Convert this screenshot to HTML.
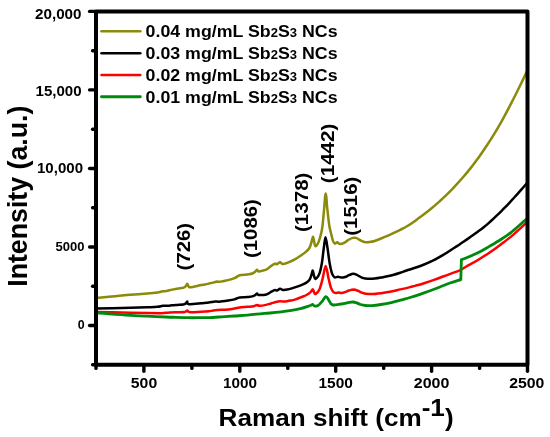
<!DOCTYPE html>
<html><head><meta charset="utf-8"><title>Raman spectra</title>
<style>html,body{margin:0;padding:0;background:#fff}svg{display:block}text{font-family:"Liberation Sans",Arial,sans-serif;font-weight:bold;fill:#000}</style></head><body>
<svg width="550" height="437" viewBox="0 0 550 437">
<rect width="550" height="437" fill="#fff"/>
<filter id="b" x="0" y="0" width="550" height="437" filterUnits="userSpaceOnUse"><feGaussianBlur stdDeviation="0.45"/></filter>
<g filter="url(#b)">
<clipPath id="c"><rect x="96" y="11.4" width="431.5" height="353.40000000000003"/></clipPath>
<g clip-path="url(#c)" fill="none" stroke-width="2.5" stroke-linejoin="round" stroke-linecap="round">
<path stroke="#8a8a08" d="M96.0,298.1C98.1,297.9 104.5,297.2 108.8,296.8C113.1,296.4 117.3,295.9 121.6,295.5C125.9,295.1 130.2,294.8 134.5,294.5C138.8,294.2 143.5,293.9 147.3,293.6C151.1,293.3 154.9,292.9 157.5,292.5C160.1,292.1 161.3,291.5 162.7,291.3C164.1,291.1 164.9,291.3 166.0,291.1C167.1,290.9 167.6,290.7 169.2,290.3C170.8,289.9 173.2,289.4 175.6,289.0C177.9,288.6 181.6,288.1 183.3,287.7C185.0,287.2 185.0,286.9 185.7,286.3C186.3,285.7 186.7,283.8 187.2,283.8C187.7,283.8 188.1,285.8 188.6,286.4C189.1,287.0 188.3,287.5 190.4,287.3C192.5,287.1 198.2,285.7 201.3,285.1C204.4,284.5 206.7,284.1 208.8,283.6C210.9,283.2 212.8,282.8 214.1,282.4C215.4,282.0 215.9,281.5 216.7,281.4C217.5,281.3 217.2,282.0 219.1,281.8C221.0,281.6 225.4,280.7 228.0,280.1C230.6,279.5 232.6,279.0 234.5,278.2C236.4,277.4 237.5,275.9 239.6,275.3C241.7,274.7 245.2,274.7 247.3,274.4C249.4,274.1 251.1,274.0 252.4,273.5C253.8,273.0 254.6,272.1 255.4,271.5C256.2,270.9 256.5,269.7 257.0,269.7C257.5,269.7 257.6,271.4 258.6,271.5C259.6,271.6 261.5,271.0 262.8,270.6C264.1,270.2 265.2,270.2 266.7,269.4C268.2,268.5 270.4,266.5 271.8,265.5C273.2,264.5 274.1,263.8 275.0,263.6C275.9,263.4 276.0,264.4 276.9,264.2C277.8,264.0 279.1,262.3 280.1,262.3C281.1,262.3 281.5,263.9 282.7,264.0C283.9,264.1 285.2,263.7 287.2,262.9C289.2,262.1 292.5,260.7 294.9,259.4C297.2,258.1 299.4,256.6 301.3,255.3C303.2,254.0 305.0,252.7 306.4,251.4C307.8,250.1 308.8,249.2 309.6,247.6C310.5,246.0 310.9,243.8 311.5,242.0C312.1,240.2 312.6,236.9 313.0,236.8C313.4,236.8 313.8,240.1 314.2,241.7C314.6,243.3 314.8,246.2 315.5,246.2C316.2,246.2 317.7,243.9 318.7,241.7C319.7,239.4 320.6,235.5 321.3,232.7C322.0,229.9 322.1,229.1 322.6,225.0C323.1,220.9 323.8,212.6 324.2,208.0C324.6,203.4 324.8,199.9 325.0,197.5C325.2,195.1 325.5,193.4 325.7,193.4C325.9,193.4 326.1,195.1 326.4,197.5C326.6,199.9 326.7,203.4 327.2,208.0C327.7,212.6 328.6,220.9 329.2,225.0C329.8,229.1 330.3,230.1 330.9,232.7C331.5,235.3 332.2,238.6 332.8,240.4C333.4,242.2 333.9,243.3 334.7,243.6C335.4,243.9 336.4,242.2 337.3,242.3C338.2,242.4 338.7,244.1 340.0,244.1C341.3,244.1 343.6,243.1 345.1,242.3C346.6,241.5 347.7,240.2 349.0,239.5C350.3,238.8 351.6,238.2 352.8,237.9C354.0,237.6 354.9,237.6 356.0,237.9C357.1,238.2 358.1,239.0 359.2,239.6C360.3,240.2 361.3,240.9 362.4,241.3C363.5,241.7 364.4,242.1 365.6,242.2C366.8,242.3 368.0,242.3 369.5,242.1C371.0,241.9 372.7,241.6 374.6,241.0C376.5,240.4 378.9,239.4 381.0,238.5C383.1,237.6 385.3,236.7 387.4,235.8C389.5,234.9 391.6,233.9 393.8,232.9C396.0,231.9 398.1,230.9 400.3,229.8C402.5,228.7 404.6,227.8 407.0,226.3C409.4,224.8 412.3,222.8 415.0,220.9C417.7,219.0 420.3,217.1 423.0,215.1C425.7,213.1 428.3,211.0 431.0,208.8C433.7,206.6 436.3,204.3 439.0,201.9C441.7,199.5 444.3,197.0 447.0,194.4C449.7,191.8 452.3,189.0 455.0,186.2C457.7,183.3 460.3,180.4 463.0,177.3C465.7,174.2 468.3,171.0 471.0,167.6C473.7,164.2 476.3,160.6 479.0,156.9C481.7,153.2 484.3,149.4 487.0,145.3C489.7,141.2 492.3,137.0 495.0,132.6C497.7,128.2 500.3,123.6 503.0,118.8C505.7,114.0 508.3,108.9 511.0,103.7C513.7,98.5 516.2,93.4 519.0,87.8C521.8,82.2 526.1,73.0 527.5,70.0"/>
<path stroke="#000" d="M96.0,308.5C100.3,308.4 113.0,308.3 121.6,308.1C130.2,307.9 141.3,307.5 147.3,307.3C153.3,307.1 154.9,307.1 157.5,306.8C160.1,306.6 160.9,306.0 162.8,305.8C164.8,305.6 167.1,305.9 169.2,305.7C171.3,305.5 173.2,305.1 175.6,304.9C177.9,304.7 181.6,304.6 183.3,304.4C185.0,304.2 185.2,304.0 185.8,303.5C186.5,303.0 186.7,301.3 187.2,301.4C187.7,301.5 186.5,303.9 188.8,304.2C191.2,304.5 198.0,303.6 201.3,303.3C204.6,303.0 206.5,302.9 208.8,302.6C211.1,302.3 213.5,301.6 215.2,301.5C216.9,301.4 217.0,301.8 219.1,301.7C221.2,301.6 225.4,301.0 228.0,300.6C230.6,300.2 232.6,299.9 234.5,299.4C236.4,298.9 237.5,297.8 239.6,297.4C241.7,297.0 245.2,297.3 247.3,297.1C249.4,296.9 251.1,296.8 252.4,296.4C253.8,296.0 254.6,295.5 255.4,295.0C256.2,294.5 256.5,293.5 257.0,293.5C257.5,293.5 257.6,294.8 258.6,295.0C259.6,295.2 261.5,295.1 262.8,295.0C264.1,294.9 265.2,295.0 266.7,294.4C268.2,293.8 270.4,292.1 271.8,291.4C273.2,290.6 274.1,290.0 275.0,289.9C275.9,289.8 276.0,290.7 276.9,290.5C277.8,290.3 279.1,288.9 280.1,288.8C281.1,288.7 281.5,289.8 282.7,289.9C283.9,290.0 285.2,290.0 287.2,289.6C289.2,289.2 292.5,288.1 294.9,287.4C297.2,286.7 299.4,286.0 301.3,285.2C303.2,284.4 305.0,283.5 306.4,282.6C307.8,281.7 308.8,280.9 309.6,279.6C310.4,278.3 310.9,276.5 311.4,275.0C311.9,273.5 312.4,270.4 312.8,270.6C313.2,270.8 313.6,274.6 314.1,276.0C314.6,277.4 314.8,279.2 315.7,278.8C316.6,278.4 318.4,276.2 319.4,273.6C320.4,271.0 321.2,267.3 321.9,263.0C322.6,258.7 323.2,252.3 323.8,248.0C324.4,243.7 324.9,237.2 325.5,237.2C326.1,237.2 326.8,243.7 327.5,248.0C328.2,252.3 328.9,258.9 329.6,263.0C330.3,267.1 331.0,270.4 331.8,272.8C332.6,275.2 333.4,276.5 334.4,277.2C335.4,277.9 336.9,276.7 338.0,276.8C339.1,276.9 340.0,277.6 341.2,277.6C342.4,277.6 343.8,277.4 345.1,277.0C346.4,276.6 347.7,275.7 349.0,275.2C350.3,274.7 351.8,273.9 353.0,273.8C354.2,273.7 355.5,274.2 356.5,274.6C357.5,275.0 358.2,275.7 359.2,276.2C360.2,276.7 361.3,277.4 362.4,277.8C363.5,278.2 364.4,278.3 365.6,278.5C366.8,278.7 368.0,278.8 369.5,278.8C371.0,278.8 372.7,278.8 374.6,278.6C376.5,278.4 378.9,278.0 381.0,277.6C383.1,277.2 385.3,276.8 387.4,276.3C389.5,275.8 391.6,275.3 393.8,274.7C396.0,274.1 398.2,273.4 400.3,272.7C402.4,272.0 404.2,271.3 406.7,270.5C409.1,269.7 412.1,268.8 415.0,267.8C417.9,266.8 421.1,265.7 424.1,264.5C427.2,263.3 430.2,261.9 433.3,260.4C436.4,258.9 439.5,257.1 442.4,255.4C445.3,253.7 448.2,251.8 450.6,250.2C453.0,248.6 454.9,247.5 457.0,246.1C459.1,244.7 461.3,243.3 463.5,241.8C465.7,240.3 467.9,238.8 470.0,237.3C472.1,235.8 474.2,234.4 476.3,232.8C478.4,231.2 480.7,229.7 482.8,228.0C484.9,226.3 487.1,224.5 489.2,222.6C491.3,220.7 493.5,218.8 495.6,216.7C497.8,214.6 500.0,212.5 502.1,210.3C504.2,208.2 506.4,206.1 508.5,203.8C510.6,201.6 512.8,199.2 514.9,196.8C517.0,194.5 519.6,191.6 521.3,189.7C523.0,187.8 524.1,186.5 525.1,185.3C526.1,184.1 527.1,183.0 527.5,182.5"/>
<path stroke="#ff0000" d="M96.0,311.9C100.3,312.0 113.0,312.2 121.6,312.4C130.2,312.6 140.9,313.0 147.3,313.1C153.7,313.2 156.9,313.2 160.0,313.2C163.1,313.1 163.4,312.9 166.0,312.8C168.6,312.7 172.5,312.4 175.6,312.3C178.7,312.2 182.7,312.4 184.6,312.1C186.5,311.8 186.4,310.4 187.2,310.4C188.0,310.4 187.1,311.9 189.4,312.1C191.8,312.3 198.1,311.8 201.3,311.7C204.5,311.6 206.5,311.5 208.8,311.3C211.1,311.1 212.0,310.6 215.2,310.3C218.4,310.0 224.8,309.7 228.0,309.4C231.2,309.1 232.6,308.8 234.5,308.5C236.4,308.2 237.5,307.7 239.6,307.4C241.7,307.1 245.0,307.0 247.3,306.8C249.7,306.6 252.0,306.5 253.7,306.2C255.3,305.9 256.2,305.0 257.2,304.9C258.2,304.8 258.0,305.8 259.5,305.8C261.0,305.8 264.1,305.3 266.0,304.9C267.9,304.5 269.3,304.0 271.0,303.5C272.7,303.0 274.5,302.4 276.0,302.0C277.5,301.6 278.7,301.3 280.0,301.2C281.3,301.1 282.3,301.7 284.0,301.6C285.7,301.5 288.2,300.9 290.0,300.6C291.8,300.3 293.0,300.2 294.9,299.6C296.8,299.0 299.4,298.0 301.3,297.2C303.2,296.4 304.9,295.8 306.4,295.0C307.9,294.2 309.2,293.4 310.3,292.4C311.4,291.4 312.2,289.2 312.8,289.2C313.4,289.2 313.6,291.6 314.1,292.4C314.6,293.2 314.9,294.3 315.8,293.8C316.7,293.3 318.3,292.1 319.4,289.6C320.5,287.1 321.6,282.6 322.6,278.7C323.7,274.8 324.7,266.0 325.7,266.0C326.7,266.0 327.7,275.1 328.6,278.7C329.5,282.3 330.1,285.4 330.9,287.6C331.7,289.8 332.6,291.2 333.5,292.1C334.4,293.0 335.1,292.9 336.0,293.0C336.9,293.1 337.7,292.6 338.6,292.6C339.5,292.6 340.1,293.1 341.2,293.0C342.3,292.9 343.8,292.5 345.1,292.1C346.4,291.7 347.6,290.9 349.0,290.5C350.4,290.1 352.0,289.6 353.5,289.6C355.0,289.7 356.6,290.3 358.0,290.8C359.4,291.3 360.5,292.2 361.8,292.7C363.1,293.2 363.9,293.5 365.6,293.7C367.3,293.9 369.4,294.2 372.0,294.1C374.6,294.0 377.8,293.6 381.0,293.2C384.2,292.8 388.1,292.1 391.3,291.5C394.5,290.9 397.2,290.1 400.3,289.4C403.4,288.7 407.6,287.7 410.0,287.1C412.4,286.5 412.6,286.5 415.0,285.9C417.4,285.2 421.1,284.2 424.1,283.2C427.2,282.2 430.2,281.2 433.3,280.1C436.4,279.0 439.3,277.9 442.4,276.8C445.4,275.7 448.7,274.5 451.6,273.4C454.5,272.3 457.5,271.4 460.0,270.3C462.5,269.2 463.4,268.2 466.4,266.5C469.4,264.8 474.1,262.3 477.9,260.0C481.7,257.7 485.5,255.4 489.3,252.8C493.1,250.2 497.0,247.4 500.8,244.5C504.6,241.6 508.4,238.8 512.2,235.6C516.0,232.4 521.1,227.6 523.6,225.3C526.1,223.0 526.9,222.6 527.5,222.0"/>
<path stroke="#008a10" stroke-width="2.8" d="M96.0,312.8C98.1,313.0 104.5,313.5 108.8,313.8C113.1,314.1 117.3,314.4 121.6,314.7C125.9,315.0 130.2,315.4 134.5,315.6C138.8,315.9 142.1,316.0 147.3,316.2C152.6,316.4 161.3,316.8 166.0,317.0C170.7,317.2 171.8,317.2 175.6,317.3C179.3,317.4 184.2,317.6 188.5,317.7C192.8,317.8 197.9,317.7 201.3,317.7C204.7,317.7 205.4,317.8 208.8,317.6C212.2,317.5 217.3,317.1 221.6,316.8C225.9,316.5 230.2,316.3 234.5,316.0C238.8,315.7 243.0,315.5 247.3,315.1C251.6,314.7 256.3,314.2 260.1,313.8C263.9,313.4 265.0,313.5 270.0,313.0C275.0,312.5 284.8,311.4 290.0,310.6C295.2,309.8 298.4,309.1 301.4,308.4C304.4,307.7 306.2,306.9 307.8,306.4C309.4,305.9 310.2,305.5 311.0,305.2C311.8,304.9 312.2,304.2 312.7,304.3C313.2,304.4 313.3,305.6 314.2,305.8C315.1,306.0 316.7,306.3 318.0,305.6C319.3,304.9 320.6,303.2 321.9,301.7C323.2,300.2 324.7,296.9 325.8,296.6C326.9,296.3 327.8,298.6 328.6,299.8C329.5,301.0 330.1,302.8 330.9,303.7C331.7,304.6 332.2,304.9 333.5,305.0C334.8,305.1 336.7,304.7 338.6,304.4C340.5,304.1 343.4,303.6 345.1,303.3C346.8,303.0 347.7,302.6 349.0,302.4C350.3,302.2 351.5,301.9 352.8,302.0C354.1,302.1 355.4,302.5 356.7,302.9C358.0,303.3 359.0,304.1 360.5,304.5C362.0,304.9 363.7,305.3 365.6,305.5C367.5,305.7 369.4,305.8 372.0,305.6C374.6,305.4 377.8,305.0 381.0,304.5C384.2,304.0 388.1,303.3 391.3,302.6C394.5,301.9 397.2,301.1 400.3,300.2C403.4,299.3 406.7,298.5 410.0,297.5C413.3,296.5 416.7,295.4 420.0,294.3C423.3,293.2 426.7,292.0 430.0,290.8C433.3,289.6 436.7,288.3 440.0,287.0C443.3,285.7 446.5,284.2 450.0,283.0C453.5,281.8 459.0,280.2 460.8,279.6L461.4,259.6C462.2,259.3 463.2,259.1 466.0,258.0C468.8,256.9 474.0,254.7 477.9,252.8C481.8,250.9 485.5,248.6 489.3,246.4C493.1,244.2 497.0,242.0 500.8,239.5C504.6,237.0 508.4,234.5 512.2,231.5C516.0,228.5 521.1,223.8 523.6,221.6C526.1,219.4 526.9,219.0 527.5,218.5"/>
</g>
<rect x="96" y="11.4" width="431.5" height="353.40000000000003" fill="none" stroke="#000" stroke-width="4" stroke-linejoin="round"/>
<g stroke="#000" stroke-width="3.4" stroke-linecap="round">
<line x1="89.6" y1="325.5" x2="95" y2="325.5"/>
<line x1="89.6" y1="247.0" x2="95" y2="247.0"/>
<line x1="89.6" y1="168.5" x2="95" y2="168.5"/>
<line x1="89.6" y1="89.9" x2="95" y2="89.9"/>
<line x1="89.6" y1="11.4" x2="95" y2="11.4"/>
<line x1="92.6" y1="364.8" x2="95" y2="364.8"/>
<line x1="92.6" y1="286.3" x2="95" y2="286.3"/>
<line x1="92.6" y1="207.7" x2="95" y2="207.7"/>
<line x1="92.6" y1="129.2" x2="95" y2="129.2"/>
<line x1="92.6" y1="50.7" x2="95" y2="50.7"/>
<line x1="143.9" y1="366" x2="143.9" y2="371.3"/>
<line x1="239.8" y1="366" x2="239.8" y2="371.3"/>
<line x1="335.7" y1="366" x2="335.7" y2="371.3"/>
<line x1="431.6" y1="366" x2="431.6" y2="371.3"/>
<line x1="527.5" y1="366" x2="527.5" y2="371.3"/>
<line x1="96.0" y1="366" x2="96.0" y2="368.4"/>
<line x1="191.9" y1="366" x2="191.9" y2="368.4"/>
<line x1="287.8" y1="366" x2="287.8" y2="368.4"/>
<line x1="383.7" y1="366" x2="383.7" y2="368.4"/>
<line x1="479.6" y1="366" x2="479.6" y2="368.4"/>
</g>
<text x="35" y="18.8" font-size="14.8" text-anchor="start" textLength="46.5" lengthAdjust="spacingAndGlyphs">20,000</text>
<text x="35.6" y="96.4" font-size="14.8" text-anchor="start" textLength="46" lengthAdjust="spacingAndGlyphs">15,000</text>
<text x="37" y="172.6" font-size="14.8" text-anchor="start" textLength="46" lengthAdjust="spacingAndGlyphs">10,000</text>
<text x="55.6" y="250.5" font-size="12.3" text-anchor="start" textLength="29" lengthAdjust="spacingAndGlyphs">5000</text>
<text x="77.8" y="329" font-size="12.3" text-anchor="start" textLength="6.9" lengthAdjust="spacingAndGlyphs">0</text>
<text x="130.8" y="387.9" font-size="14.8" text-anchor="start" textLength="26.4" lengthAdjust="spacingAndGlyphs">500</text>
<text x="223" y="387.9" font-size="14.8" text-anchor="start" textLength="34" lengthAdjust="spacingAndGlyphs">1000</text>
<text x="318.5" y="387.9" font-size="14.8" text-anchor="start" textLength="34.4" lengthAdjust="spacingAndGlyphs">1500</text>
<text x="413.8" y="387.9" font-size="14.8" text-anchor="start" textLength="35.6" lengthAdjust="spacingAndGlyphs">2000</text>
<text x="509.2" y="387.9" font-size="14.8" text-anchor="start" textLength="35.2" lengthAdjust="spacingAndGlyphs">2500</text>
<line x1="101.5" y1="31.2" x2="140.3" y2="31.2" stroke="#8a8a08" stroke-width="2.5" stroke-linecap="round"/>
<text x="145.6" y="37.0" font-size="17.2" text-anchor="start" textLength="192" lengthAdjust="spacingAndGlyphs">0.04 mg/mL Sb<tspan font-size="12.6">2</tspan>S<tspan font-size="12.6">3</tspan> NCs</text>
<line x1="101.5" y1="53.3" x2="140.3" y2="53.3" stroke="#000" stroke-width="2.5" stroke-linecap="round"/>
<text x="145.6" y="59.099999999999994" font-size="17.2" text-anchor="start" textLength="192" lengthAdjust="spacingAndGlyphs">0.03 mg/mL Sb<tspan font-size="12.6">2</tspan>S<tspan font-size="12.6">3</tspan> NCs</text>
<line x1="101.5" y1="75" x2="140.3" y2="75" stroke="#ff0000" stroke-width="2.5" stroke-linecap="round"/>
<text x="145.6" y="80.8" font-size="17.2" text-anchor="start" textLength="192" lengthAdjust="spacingAndGlyphs">0.02 mg/mL Sb<tspan font-size="12.6">2</tspan>S<tspan font-size="12.6">3</tspan> NCs</text>
<line x1="101.5" y1="96.8" x2="140.3" y2="96.8" stroke="#008a10" stroke-width="2.9" stroke-linecap="round"/>
<text x="145.6" y="102.6" font-size="17.2" text-anchor="start" textLength="192" lengthAdjust="spacingAndGlyphs">0.01 mg/mL Sb<tspan font-size="12.6">2</tspan>S<tspan font-size="12.6">3</tspan> NCs</text>
<text transform="translate(190.2,270.4) rotate(-90)" font-size="19" textLength="47.5" lengthAdjust="spacingAndGlyphs">(726)</text>
<text transform="translate(257.3,258) rotate(-90)" font-size="19" textLength="58.8" lengthAdjust="spacingAndGlyphs">(1086)</text>
<text transform="translate(307.6,232) rotate(-90)" font-size="19" textLength="59.4" lengthAdjust="spacingAndGlyphs">(1378)</text>
<text transform="translate(333.6,183.2) rotate(-90)" font-size="19" textLength="59.6" lengthAdjust="spacingAndGlyphs">(1442)</text>
<text transform="translate(356.8,235.8) rotate(-90)" font-size="19" textLength="59.2" lengthAdjust="spacingAndGlyphs">(1516)</text>
<text x="218.6" y="425.5" font-size="23.2" textLength="235" lengthAdjust="spacingAndGlyphs">Raman shift (cm<tspan dy="-9.2">-1</tspan><tspan dy="9.2">)</tspan></text>
<text transform="translate(27.3,286.8) rotate(-90)" font-size="27" textLength="181.2" lengthAdjust="spacingAndGlyphs">Intensity (a.u.)</text>
</g>
</svg></body></html>
